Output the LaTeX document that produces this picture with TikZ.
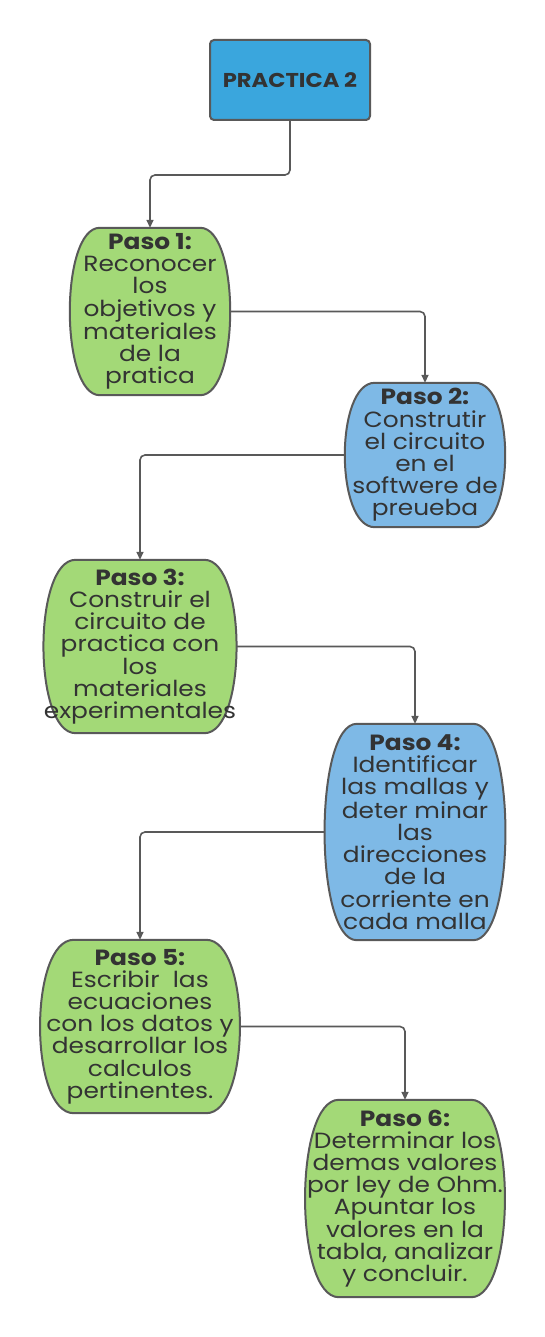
\documentclass[tikz,border=0pt]{standalone}
\usepackage{fontspec}
\setmainfont{Poppins}
\newfontfamily\widefont[FakeStretch=1.13]{Poppins}
\usetikzlibrary{backgrounds,arrows.meta}
\definecolor{titleblue}{HTML}{3AA6DD}
\definecolor{stepblue}{HTML}{7EB9E6}
\definecolor{stepgreen}{HTML}{A3D977}
\definecolor{edge}{HTML}{595959}
\definecolor{ink}{HTML}{333333}
\tikzset{
  stepbox/.style={inner sep=0pt, align=center, text=ink, font=\widefont\fontsize{22}{22.2}\selectfont},
  barrelline/.style={draw=edge, line width=2pt, line join=round},
  conn/.style={draw=edge, line width=1.6pt, rounded corners=5pt, -{Triangle[length=8pt,width=7pt]}},
}
\newcommand\drawbarrel[4]{%
  \path[barrelline, fill=#2] ([xshift=#3]#1.north west) -- ([xshift=-#3]#1.north east)
    .. controls ([xshift=#4]#1.north east) and ([xshift=#4]#1.south east) .. ([xshift=-#3]#1.south east)
    -- ([xshift=#3]#1.south west)
    .. controls ([xshift=-#4]#1.south west) and ([xshift=-#4]#1.north west) .. cycle;}
\begin{document}
\begin{tikzpicture}[x=1pt,y=-1pt]
\path[use as bounding box] (0,0) rectangle (545,1337);
\node[draw=edge, line width=2pt, fill=titleblue, rounded corners=4pt, minimum width=160pt, minimum height=80pt, text=ink, font=\widefont\bfseries\fontsize{20}{22}\selectfont] (t) at (290,80) {PRACTICA 2};
\node[stepbox, minimum width=160pt, minimum height=167pt] (p1) at (150,311.5) {\textbf{Paso 1:}\\Reconocer\\los\\objetivos y\\materiales\\de la\\pratica};
\node[stepbox, minimum width=160pt, minimum height=144pt] (p2) at (425,455) {\textbf{Paso 2:}\\Construtir\\el circuito\\en el\\softwere de\\preueba};
\node[stepbox, minimum width=180pt, minimum height=173pt] (p3) at (140,646.5) {\textbf{Paso 3:}\\Construir el\\circuito de\\practica con\\los\\materiales\\experimentales};
\node[stepbox, minimum width=180pt, minimum height=216pt] (p4) at (415,832) {\textbf{Paso 4:}\\Identificar\\las mallas y\\deter minar\\las\\direcciones\\de la\\corriente en\\cada malla};
\node[stepbox, minimum width=200pt, minimum height=173pt] (p5) at (140,1026.5) {\textbf{Paso 5:}\\Escribir\ \ las\\ecuaciones\\con los datos y\\desarrollar los\\calculos\\pertinentes.};
\node[stepbox, minimum width=200pt, minimum height=197pt] (p6) at (405,1198.5) {\textbf{Paso 6:}\\Determinar los\\demas valores\\por ley de Ohm.\\Apuntar los\\valores en la\\tabla, analizar\\y concluir.};
\begin{scope}[on background layer]
\fill[white] (0,0) rectangle (545,1337);
\drawbarrel{p1}{stepgreen}{30pt}{10pt}
\drawbarrel{p2}{stepblue}{30pt}{10pt}
\drawbarrel{p3}{stepgreen}{32pt}{11pt}
\drawbarrel{p4}{stepblue}{32pt}{11pt}
\drawbarrel{p5}{stepgreen}{34pt}{11pt}
\drawbarrel{p6}{stepgreen}{34pt}{11pt}
\end{scope}
\draw[conn] (t.south) -- (t.south |- 0,175) -| (p1.north);
\draw[conn] (p1.east) -| (p2.north);
\draw[conn] (p2.west) -| (p3.north);
\draw[conn] (p3.east) -| (p4.north);
\draw[conn] (p4.west) -| (p5.north);
\draw[conn] (p5.east) -| (p6.north);
\end{tikzpicture}
\end{document}
